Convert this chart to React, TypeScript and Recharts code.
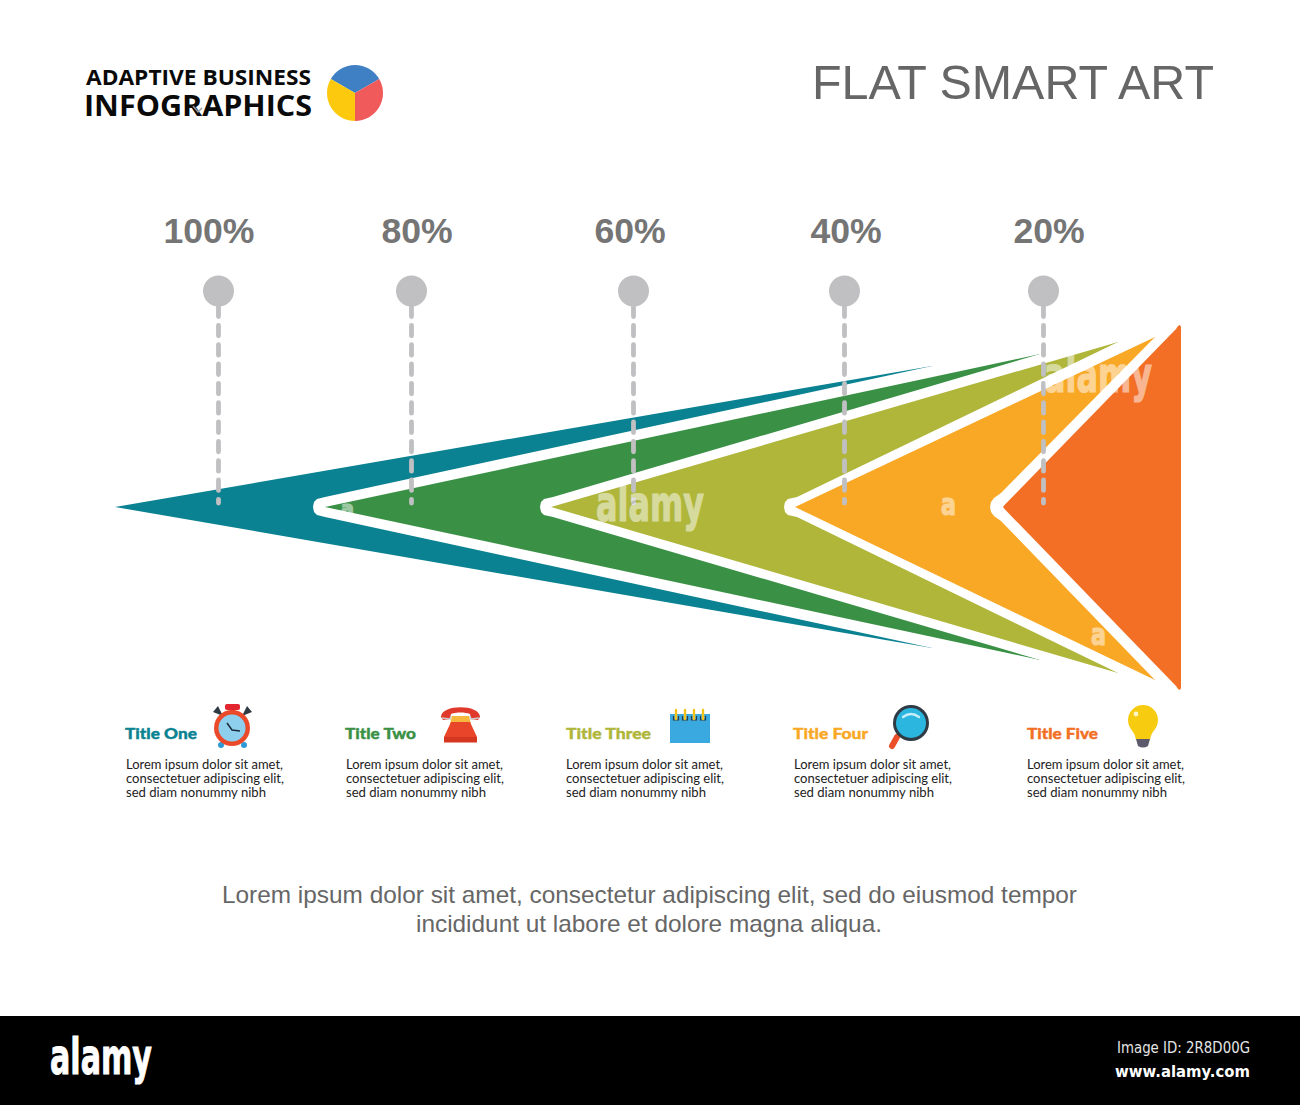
import React from "react";
import { ComposedChart, Area, Line, Scatter, XAxis, YAxis, PieChart, Pie, Cell } from "recharts";

type BandPoint = [number, number, number];

// x, upper edge, lower edge of every chevron and of the white notch cut into it
const tealOuter: BandPoint[] = [[115, 507, 507], [932, 366, 648]];
const tealNotch: BandPoint[] = [[313, 507, 507], [314, 502, 512], [317, 499, 515], [325, 497, 517], [932, 366, 648]];
const greenOuter: BandPoint[] = [[325, 507, 507], [1040, 354, 660]];
const greenNotch: BandPoint[] = [[540, 507, 507], [541, 502, 512], [544, 499, 515], [553, 497, 517], [1040, 354, 660]];
const oliveOuter: BandPoint[] = [[551, 507, 507], [1118, 342, 673]];
const oliveNotch: BandPoint[] = [[784, 507, 507], [785, 502, 512], [788, 499, 515], [797, 497, 517], [1118, 342, 673]];
const amberOuter: BandPoint[] = [[795, 507, 507], [1155, 337, 680]];
const amberNotch: BandPoint[] = [[990, 507, 507], [991, 502, 512], [994, 498, 516], [1001, 493, 521], [1155, 337, 680]];
const redOuter: BandPoint[] = [[1003, 507, 507], [1004.5, 505, 509], [1176, 329, 686], [1178, 326, 689], [1180, 325, 690], [1181, 327, 688]];

const percentLabels = ["100%", "80%", "60%", "40%", "20%"];
const percentCentres = [209, 417, 630, 846, 1049];
const pinCentres = [218.5, 411.5, 633.5, 844.5, 1043.5];

const titles = ["Title One", "Title Two", "Title Three", "Title Four", "Title Five"];
const titleColours = ["#0b8292", "#3a9145", "#afb63a", "#f9a825", "#f26f25"];
const titleStarts = [125, 345, 566, 793, 1027];
const titleWidths = [72, 71, 85, 75, 71];
const blurbStarts = [126, 346, 566, 794, 1027];
const blurbLines = ["Lorem ipsum dolor sit amet,", "consectetuer adipiscing elit,", "sed diam nonummy nibh"];
const blurbWidths = [157, 158, 140];
const pieShares = [1, 1, 1];
const pieColours = ["#3f7fc4", "#fdc90f", "#f05a5a"];

const rows = (pts: BandPoint[]) => pts.map(([x, hi, lo]) => ({ x, band: [lo, hi] }));
const percentRows = percentLabels.map((label, i) => ({ x: percentCentres[i], y: 230, label }));
const pinRows = pinCentres.map((x) => ({ x, y: 291 }));

const BAND_LAYERS: [BandPoint[], string][] = [
  [tealOuter, "#0b8292"],
  [tealNotch, "#ffffff"],
  [greenOuter, "#3a9145"],
  [greenNotch, "#ffffff"],
  [oliveOuter, "#afb63a"],
  [oliveNotch, "#ffffff"],
  [amberOuter, "#f9a825"],
  [amberNotch, "#ffffff"],
  [redOuter, "#f26f25"],
];

const sans = "'Liberation Sans', Arial, sans-serif";

function Mark({ x, y, size, width, text }: { x: number; y: number; size: number; width: number; text: string }) {
  return (
    <text x={x} y={y} fill="#ffffff" stroke="#ffffff" strokeWidth={1.2} opacity={0.5} fontFamily="'DejaVu Sans'" fontWeight={700} fontSize={size} textLength={width} lengthAdjust="spacingAndGlyphs">
      {text}
    </text>
  );
}

function Icons() {
  return (
    <g>
      {/* clock */}
      <rect x={225} y={704} width={15} height={6} rx={2} fill="#e2252f" />
      <rect x={230} y={708} width={5} height={5} fill="#e2252f" />
      <path d="M213 712 L218 706 L223 716 Z M252 712 L247 706 L242 716 Z" fill="#2f3a44" />
      <circle cx={221} cy={745} r={3} fill="#2e9bd6" />
      <circle cx={244} cy={745} r={3} fill="#2e9bd6" />
      <circle cx={232} cy={728} r={18} fill="#ea4a2a" />
      <circle cx={232} cy={728} r={13.5} fill="#8ecfee" />
      <path d="M227 723 L232 730 L240 731" stroke="#1d2b3a" strokeWidth={1.5} fill="none" />
      {/* telephone */}
      <path d="M441 717 C441 704 480 704 480 717 L478 720 L471 719 L470 714 C465 712 456 712 451 714 L450 719 L443 720 Z" fill="#e0392b" />
      <path d="M442 718 L450 719 L451 716 M479 718 L471 719 L470 716" stroke="#c9c9c9" strokeWidth={1.5} fill="none" />
      <path d="M452 716 L469 716 L471 724 L450 724 Z" fill="#f6b73c" />
      <path d="M451 722 L470 722 L477 737 L444 737 Z" fill="#e8452a" />
      <rect x={444} y={737} width={33} height={5.5} fill="#d5361f" />
      {/* calendar */}
      <rect x={670} y={714} width={40} height={29} fill="#3aa9e0" />
      <path d="M673.5 716 V720 H678.5 V716 M682.5 716 V720 H687.5 V716 M691.5 716 V720 H696.5 V716 M700.5 716 V720 H705.5 V716" stroke="#2d3b45" strokeWidth={1.2} fill="none" />
      <path d="M676 710 V719 M685 710 V719 M694 710 V719 M703 710 V719" stroke="#f7c21a" strokeWidth={2.4} strokeLinecap="round" />
      {/* magnifier */}
      <path d="M897 737 L892 746" stroke="#ea4f2a" strokeWidth={6} strokeLinecap="round" />
      <circle cx={911} cy={723} r={18} fill="#2f3a44" />
      <circle cx={911} cy={723} r={15} fill="#2bb6e0" />
      <path d="M903 717 Q911 711 919 717" stroke="#c5eef8" strokeWidth={2.4} fill="none" strokeLinecap="round" />
      {/* bulb */}
      <path d="M1128 720 A15 15 0 1 1 1158 720 C1158 729 1151 731 1150 740 L1136 740 C1135 731 1128 729 1128 720 Z" fill="#f7cb0f" />
      <path d="M1136 739 L1150 739 L1148 746 Q1143 749 1138 746 Z" fill="#5d5a6e" />
      <circle cx={1136} cy={714} r={2.4} fill="#fff6c8" />
    </g>
  );
}

export default function App() {
  return (
    <div style={{ position: "absolute", left: 0, top: 0, width: 1300, height: 1105, background: "#ffffff", overflow: "hidden" }}>
      <ComposedChart width={1300} height={1105} margin={{ top: 0, right: 0, bottom: 0, left: 0 }} style={{ position: "absolute", left: 0, top: 0 }}>
        <XAxis hide type="number" dataKey="x" domain={[0, 1300]} />
        <YAxis hide type="number" dataKey="y" domain={[0, 1105]} reversed />
        {BAND_LAYERS.map(([pts, colour], i) => (
          <Area key={i} data={rows(pts)} dataKey="band" type="linear" stroke="none" fill={colour} fillOpacity={1} dot={false} activeDot={false} isAnimationActive={false} />
        ))}
        {pinCentres.map((x) => (
          <Line key={x} data={[{ x, y: 306 }, { x, y: 503 }]} dataKey="y" type="linear" stroke="#c0bfc1" strokeWidth={4.8} strokeLinecap="round" strokeDasharray="10.5 8.83" dot={false} activeDot={false} isAnimationActive={false} />
        ))}
        <Scatter
          data={pinRows}
          isAnimationActive={false}
          shape={(p: any) => <circle cx={p.cx} cy={p.cy} r={15.5} fill="#c0bfc1" />}
        />
        <Scatter
          data={percentRows}
          isAnimationActive={false}
          shape={(p: any) => (
            <text x={p.cx} y={p.cy + 12.5} textAnchor="middle" fill="#757575" fontFamily={sans} fontWeight={700} fontSize={35.6}>
              {p.payload.label}
            </text>
          )}
        />
      </ComposedChart>

      <div style={{ position: "absolute", left: 325, top: 63 }}>
        <PieChart width={60} height={60} margin={{ top: 0, right: 0, bottom: 0, left: 0 }}>
          <Pie data={pieShares.map((value) => ({ value }))} dataKey="value" cx={30} cy={30} outerRadius={28} startAngle={30} endAngle={390} stroke="none" isAnimationActive={false}>
            {pieShares.map((_, i) => (
              <Cell key={i} fill={pieColours[i]} />
            ))}
          </Pie>
        </PieChart>
      </div>

      <svg width={1300} height={1105} style={{ position: "absolute", left: 0, top: 0, pointerEvents: "none" }}>
        <text x={86} y={85} fontFamily="'Open Sans'" fontWeight={700} fontSize={21.5} fill="#0a0a0a" textLength={225} lengthAdjust="spacingAndGlyphs">ADAPTIVE BUSINESS</text>
        <text x={84} y={116} fontFamily="'Open Sans'" fontWeight={700} fontSize={29} fill="#0a0a0a" textLength={228} lengthAdjust="spacingAndGlyphs">INFOGRAPHICS</text>
        <path d="M193 106 L198 112 L202 108" stroke="#9a9a9a" strokeWidth={1.5} fill="none" />
        <text x={812} y={99} fontFamily={sans} fontSize={48} fill="#666666" textLength={402} lengthAdjust="spacingAndGlyphs">FLAT SMART ART</text>

        <Icons />

        {titles.map((t, i) => (
          <g key={t}>
            <text x={titleStarts[i]} y={738.5} fontFamily="Lato" fontWeight={900} fontSize={15} fill={titleColours[i]} stroke={titleColours[i]} strokeWidth={0.35} textLength={titleWidths[i]} lengthAdjust="spacingAndGlyphs">{t}</text>
            {blurbLines.map((line, j) => (
              <text key={j} x={blurbStarts[i]} y={769 + j * 14} fontFamily="Lato" fontSize={12.4} fill="#222222" textLength={blurbWidths[j]} lengthAdjust="spacingAndGlyphs">{line}</text>
            ))}
          </g>
        ))}

        <text x={222} y={903} fontFamily={sans} fontSize={23.4} fill="#666666" textLength={855} lengthAdjust="spacingAndGlyphs">Lorem ipsum dolor sit amet, consectetur adipiscing elit, sed do eiusmod tempor</text>
        <text x={416} y={932} fontFamily={sans} fontSize={23.4} fill="#666666" textLength={466} lengthAdjust="spacingAndGlyphs">incididunt ut labore et dolore magna aliqua.</text>

        <Mark x={596} y={521} size={50} width={108} text="alamy" />
        <Mark x={1044} y={392} size={50} width={108} text="alamy" />
        <Mark x={941} y={515} size={30} width={15} text="a" />
        <Mark x={1091} y={645} size={30} width={15} text="a" />
        <Mark x={341} y={515} size={20} width={13} text="a" />

        <rect x={0} y={1016} width={1300} height={89} fill="#000000" />
        <text x={50} y={1074} fontFamily="'DejaVu Sans'" fontWeight={700} fontSize={50} fill="#ffffff" stroke="#ffffff" strokeWidth={1} textLength={102} lengthAdjust="spacingAndGlyphs">alamy</text>
        <text x={1117} y={1053} fontFamily="'DejaVu Sans'" fontSize={15} fill="#e6e6e6" textLength={133} lengthAdjust="spacingAndGlyphs">Image ID: 2R8D00G</text>
        <text x={1115} y={1077} fontFamily="'DejaVu Sans'" fontWeight={700} fontSize={16} fill="#ffffff" textLength={135} lengthAdjust="spacingAndGlyphs">www.alamy.com</text>
      </svg>
    </div>
  );
}
